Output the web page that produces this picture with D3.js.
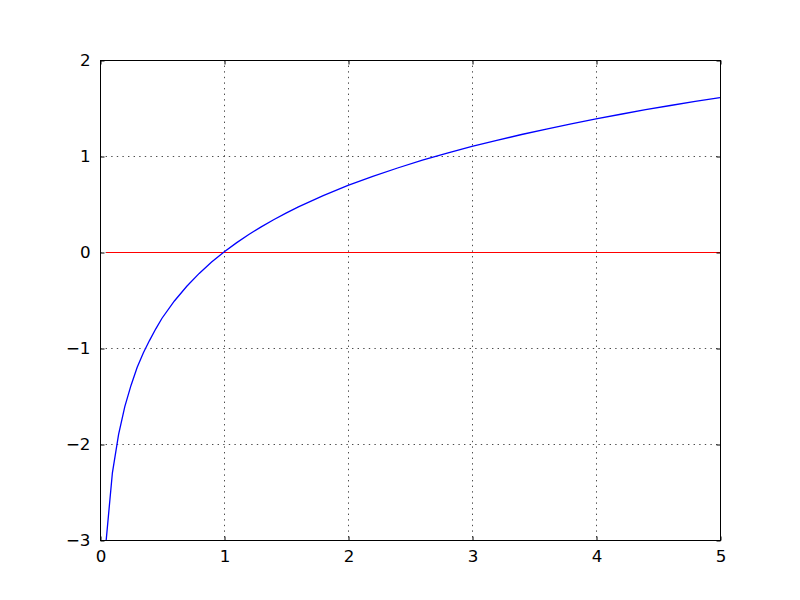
<!DOCTYPE html>
<html>
<head>
<meta charset="utf-8">
<script src="https://cdn.jsdelivr.net/npm/d3@7"></script>
<style>
  body { margin: 0; background: #fff; }
  text { font-family: "DejaVu Sans", sans-serif; }
</style>
</head>
<body>
<svg id="chart" width="800" height="600"></svg>
<script>
// values
const xVals = [0.05, 0.1, 0.15, 0.2, 0.25, 0.3, 0.35, 0.4, 0.45, 0.5, 0.6, 0.7, 0.8, 0.9, 1.0,
  1.1, 1.2, 1.3, 1.4, 1.5, 1.6, 1.8, 2.0, 2.2, 2.4, 2.6, 2.8, 3.0, 3.2, 3.4, 3.6, 3.8,
  4.0, 4.2, 4.4, 4.6, 4.8, 5.0];
const yVals = [-3.0, -2.3, -1.9, -1.61, -1.39, -1.2, -1.05, -0.92, -0.8, -0.69, -0.51, -0.357, -0.223, -0.105, 0.0,
  0.095, 0.182, 0.262, 0.336, 0.405, 0.47, 0.588, 0.693, 0.788, 0.875, 0.956, 1.03, 1.099, 1.163, 1.224, 1.281, 1.335,
  1.386, 1.435, 1.482, 1.526, 1.569, 1.609];
const zeroLine = [0, 0];
const xTicks = [0, 1, 2, 3, 4, 5];
const yTicks = [-3, -2, -1, 0, 1, 2];

const svg = d3.select("#chart");
const m = { left: 100, right: 720, top: 60, bottom: 540 };

const x = d3.scaleLinear().domain([0, 5]).range([m.left, m.right]);
const y = d3.scaleLinear().domain([-3, 2]).range([m.bottom, m.top]);

const fmt = d => d < 0 ? "\u2212" + Math.abs(d) : String(d);

// grid, matplotlib classic dotted
const grid = svg.append("g");
xTicks.forEach(t => {
  grid.append("line")
    .attr("x1", x(t) + 0.5).attr("x2", x(t) + 0.5).attr("y1", m.top).attr("y2", m.bottom)
    .attr("stroke", "#000").attr("stroke-width", 0.7).attr("stroke-dasharray", "1.4,4.2");
});
yTicks.forEach(t => {
  grid.append("line")
    .attr("x1", m.left).attr("x2", m.right).attr("y1", y(t) + 0.5).attr("y2", y(t) + 0.5)
    .attr("stroke", "#000").attr("stroke-width", 0.7).attr("stroke-dasharray", "1.4,4.2");
});

// clip
svg.append("clipPath").attr("id", "clip")
  .append("rect").attr("x", m.left).attr("y", m.top)
  .attr("width", m.right - m.left).attr("height", m.bottom - m.top);

const plot = svg.append("g").attr("clip-path", "url(#clip)");

// red line at zero
plot.append("path")
  .datum([[xVals[0], zeroLine[0]], [xVals[xVals.length - 1], zeroLine[1]]])
  .attr("fill", "none").attr("stroke", "red").attr("stroke-width", 1.2)
  .attr("d", d3.line().x(d => x(d[0])).y(d => y(d[1]) + 0.5));

// curve
plot.append("path")
  .datum(xVals.map((v, i) => [v, yVals[i]]))
  .attr("fill", "none").attr("stroke", "blue").attr("stroke-width", 1.3)
  .attr("d", d3.line().x(d => x(d[0])).y(d => y(d[1])));

// axes, ticks inward on all sides
const axBottom = svg.append("g").attr("transform", `translate(0.5,${m.bottom + 0.5})`)
  .call(d3.axisBottom(x).tickValues(xTicks).tickFormat(fmt).tickSizeInner(-4).tickSizeOuter(0).tickPadding(10));
const axTop = svg.append("g").attr("transform", `translate(0.5,${m.top + 0.5})`)
  .call(d3.axisTop(x).tickValues(xTicks).tickFormat("").tickSizeInner(-4).tickSizeOuter(0));
const axLeft = svg.append("g").attr("transform", `translate(${m.left + 0.5},0.5)`)
  .call(d3.axisLeft(y).tickValues(yTicks).tickFormat(fmt).tickSizeInner(-4).tickSizeOuter(0).tickPadding(10));
const axRight = svg.append("g").attr("transform", `translate(${m.right + 0.5},0.5)`)
  .call(d3.axisRight(y).tickValues(yTicks).tickFormat("").tickSizeInner(-4).tickSizeOuter(0));

[axBottom, axTop, axLeft, axRight].forEach(g => {
  g.select(".domain").remove();
  g.selectAll(".tick line").attr("stroke", "#000");
  g.selectAll("text").attr("fill", "#000").style("font-size", "16.7px")
    .style("font-family", "'DejaVu Sans', sans-serif");
});

// frame
svg.append("rect")
  .attr("x", m.left + 0.5).attr("y", m.top + 0.5)
  .attr("width", m.right - m.left).attr("height", m.bottom - m.top)
  .attr("fill", "none").attr("stroke", "#000").attr("stroke-width", 1);
</script>
</body>
</html>
